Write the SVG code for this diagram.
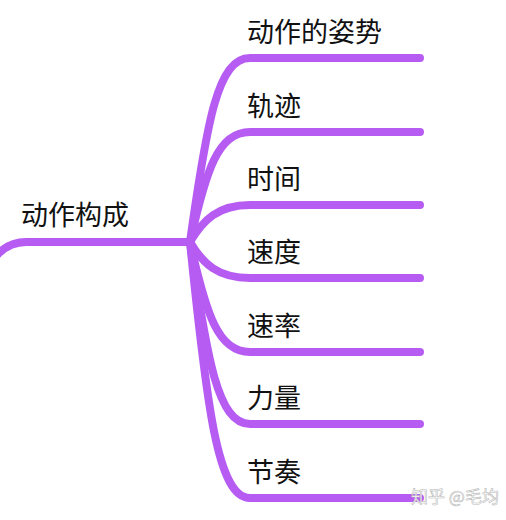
<svg xmlns="http://www.w3.org/2000/svg" width="506" height="520" viewBox="0 0 506 520">
<style>
.c{fill:none;stroke:#B65CF2;stroke-width:8;stroke-linecap:round;stroke-linejoin:round}
.t{font-family:"Noto Sans CJK SC","Noto Sans",sans-serif;font-size:27px;fill:#111}
.w{font-family:"Noto Sans CJK SC","Noto Sans",sans-serif;font-size:17px;fill:#ffffff;stroke:#bbbbbb;stroke-width:0.6}
</style>
<rect width="506" height="520" fill="#ffffff"/>
<g id="connectors">
<path class="c" d="M-12 268 Q2 242 26 242 L190 242"/>
<path class="c" d="M190 242 C207 120 218 58 250 58 L420 58"/>
<path class="c" d="M190 242 C206 170 218 132 250 132 L420 132"/>
<path class="c" d="M190 242 C203 220 218 205 250 205 L420 205"/>
<path class="c" d="M190 242 C203 264 218 278 250 278 L420 278"/>
<path class="c" d="M190 242 C206 314 218 352 250 352 L420 352"/>
<path class="c" d="M190 242 C207 360 218 424 250 424 L420 424"/>
<path class="c" d="M190 242 C207 410 218 498 250 498 L420 498"/>
</g>
<g id="root"><text class="t" x="21" y="225">动作构成</text></g>
<g id="n1"><text class="t" x="247" y="42">动作的姿势</text></g>
<g id="n2"><text class="t" x="247" y="116">轨迹</text></g>
<g id="n3"><text class="t" x="247" y="189">时间</text></g>
<g id="n4"><text class="t" x="247" y="262">速度</text></g>
<g id="n5"><text class="t" x="247" y="336">速率</text></g>
<g id="n6"><text class="t" x="247" y="408">力量</text></g>
<g id="n7"><text class="t" x="247" y="482">节奏</text></g>
<text class="w" x="411" y="503">知乎 @毛均</text>
</svg>
